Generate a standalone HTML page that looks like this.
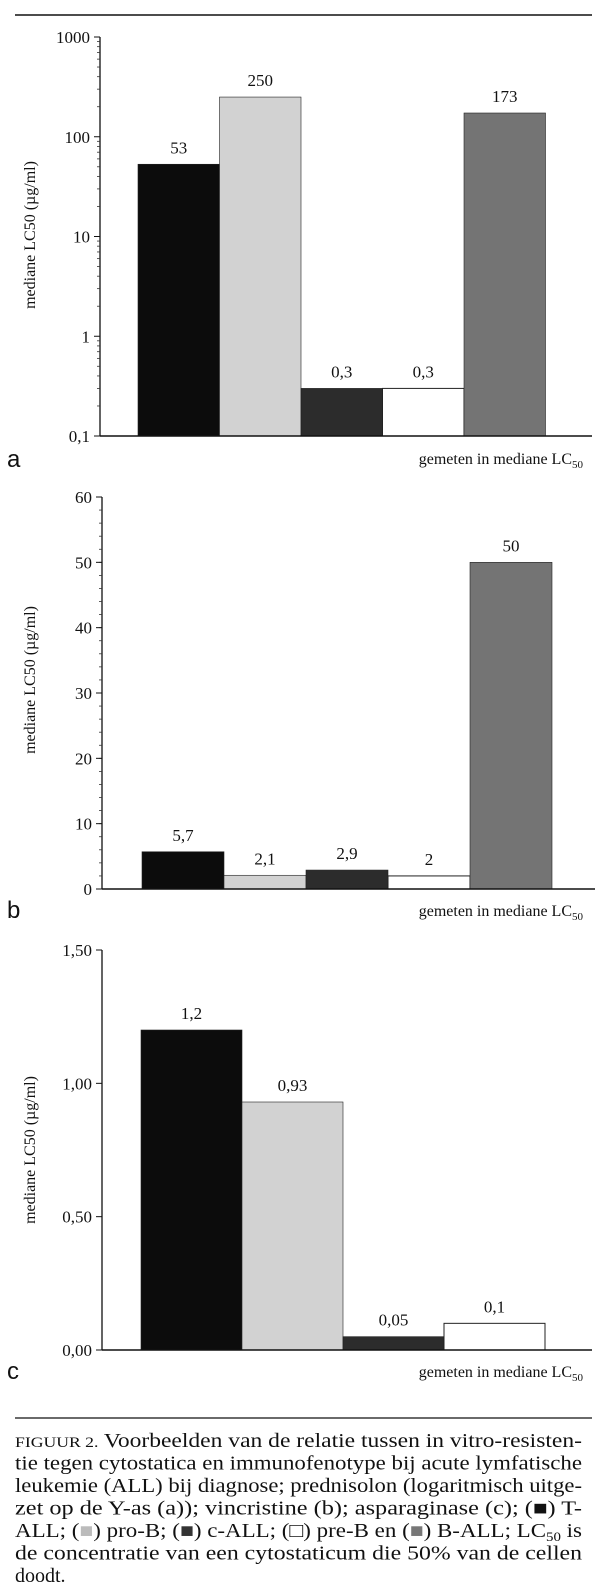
<!DOCTYPE html>
<html><head><meta charset="utf-8"><style>
body{margin:0;background:#fff;}
svg{display:block;font-family:"Liberation Serif",serif;}
</style></head><body>
<svg id="fig" width="600" height="1590" viewBox="0 0 600 1590">
<line x1="15" y1="15" x2="592" y2="15" stroke="#111" stroke-width="1.5"/>
<g id="chartA"></g>
<g id="chartB"></g>
<g id="chartC"></g>
<line x1="15" y1="1418" x2="592" y2="1418" stroke="#111" stroke-width="1.2"/>
<g font-size="20" fill="#111">
<text x="15" y="1447" textLength="567" lengthAdjust="spacingAndGlyphs"><tspan font-size="15">FIGUUR 2.</tspan> Voorbeelden van de relatie tussen in vitro-resisten-</text>
<text x="15" y="1469.5" textLength="567" lengthAdjust="spacingAndGlyphs">tie tegen cytostatica en immunofenotype bij acute lymfatische</text>
<text x="15" y="1492" textLength="567" lengthAdjust="spacingAndGlyphs">leukemie (ALL) bij diagnose; prednisolon (logaritmisch uitge-</text>
<text x="15" y="1514.5" textLength="567" lengthAdjust="spacingAndGlyphs">zet op de Y-as (a)); vincristine (b); asparaginase (c); (■) T-</text>
<text x="15" y="1537" textLength="567" lengthAdjust="spacingAndGlyphs">ALL; (<tspan fill="#bbb">■</tspan>) pro-B; (<tspan fill="#333">■</tspan>) c-ALL; (□) pre-B en (<tspan fill="#777">■</tspan>) B-ALL; LC<tspan font-size="13" dy="4">50</tspan><tspan dy="-4"> is</tspan></text>
<text x="15" y="1559.5" textLength="567" lengthAdjust="spacingAndGlyphs">de concentratie van een cytostaticum die 50% van de cellen</text>
<text x="15" y="1582">doodt.</text>
</g>
</svg>
<script>
const groups = ["T-ALL","pro-B","c-ALL","pre-B","B-ALL"];
const valuesA = [53, 250, 0.3, 0.3, 173];
const labelsA = ["53","250","0,3","0,3","173"];
const valuesB = [5.7, 2.1, 2.9, 2, 50];
const labelsB = ["5,7","2,1","2,9","2","50"];
const valuesC = [1.2, 0.93, 0.05, 0.1];
const labelsC = ["1,2","0,93","0,05","0,1"];
const ticksA = [0.1, 1, 10, 100, 1000];
const tickLabelsA = ["0,1","1","10","100","1000"];
const ticksB = [0,10,20,30,40,50,60];
const tickLabelsB = ["0","10","20","30","40","50","60"];
const ticksC = [0, 0.5, 1, 1.5];
const tickLabelsC = ["0,00","0,50","1,00","1,50"];

const NS="http://www.w3.org/2000/svg";
const fills={"T-ALL":"#0c0c0c","pro-B":"#d2d2d2","c-ALL":"#2c2c2c","pre-B":"#ffffff","B-ALL":"#747474"};
function mk(p,tag,a){const e=document.createElementNS(NS,tag);for(const k in a)e.setAttribute(k,a[k]);p.appendChild(e);return e;}

function draw(id,cfg){
  const g=document.getElementById(id);
  const {x0,x1,yTop,yBot,scale,vals,labs,cats,barX0,barW,ticks,tlabs,minor,letter,letterY,noteY,titleY}=cfg;
  cats.forEach((c,i)=>{
    const yv=scale(vals[i]);
    const r=mk(g,'rect',{x:barX0+i*barW,y:yv,width:barW,height:yBot-yv,fill:fills[c],stroke:'#222','stroke-width':c==='pre-B'?1:0.6});
    
    
    const t=mk(g,'text',{x:barX0+i*barW+barW/2,y:yv-11,'text-anchor':'middle','font-size':17,fill:'#111'});
    t.textContent=labs[i];
    
    
  });
  const ya=mk(g,'line',{x1:x0,y1:yTop,x2:x0,y2:yBot,stroke:'#111','stroke-width':1.3});
  
  
  const xa=mk(g,'line',{x1:x0,y1:yBot,x2:x1,y2:yBot,stroke:'#111','stroke-width':1.5});
  
  
  minor.forEach(v=>{const y=scale(v);const m=mk(g,'line',{x1:x0-3,y1:y,x2:x0,y2:y,stroke:'#333','stroke-width':0.8});
    
    });
  ticks.forEach((v,i)=>{const y=scale(v);
    const m=mk(g,'line',{x1:x0-6,y1:y,x2:x0,y2:y,stroke:'#111','stroke-width':1});
    
    
    const t=mk(g,'text',{x:x0-10,y:y+6,'text-anchor':'end','font-size':17,fill:'#111'});
    t.textContent=tlabs[i];
    
    });
  const tt=mk(g,'text',{x:0,y:0,transform:`translate(35,${titleY}) rotate(-90)`,'text-anchor':'middle','font-size':16,fill:'#111'});
  tt.textContent='mediane LC50 (µg/ml)';
  
  
  const l=mk(g,'text',{x:7,y:letterY,'font-size':24,'font-family':'Liberation Sans, sans-serif',fill:'#111'});
  l.textContent=letter;
  
  
  const n=mk(g,'text',{x:583,y:noteY,'text-anchor':'end','font-size':16,fill:'#111'});
  n.innerHTML='gemeten in mediane LC<tspan font-size="11" dy="4">50</tspan>';
  
  
}
const aTop=37,aBot=436;
const sA=v=>aBot-(Math.log10(v)+1)*(aBot-aTop)/4;
const minorA=[];[0.1,1,10,100].forEach(d=>{for(let k=2;k<10;k++)minorA.push(d*k);});
draw('chartA',{x0:100,x1:592,yTop:aTop,yBot:aBot,scale:sA,vals:valuesA,labs:labelsA,cats:groups,barX0:138,barW:81.5,ticks:ticksA,tlabs:tickLabelsA,minor:minorA,letter:'a',letterY:467,noteY:464,titleY:235});
const bTop=497,bBot=889;
const sB=v=>bBot-v*(bBot-bTop)/60;
const minorB=[];for(let v=2;v<60;v+=2)minorB.push(v);
draw('chartB',{x0:102,x1:595,yTop:bTop,yBot:bBot,scale:sB,vals:valuesB,labs:labelsB,cats:groups,barX0:142,barW:82,ticks:ticksB,tlabs:tickLabelsB,minor:minorB,letter:'b',letterY:918,noteY:916,titleY:680});
const cTop=950,cBot=1350;
const sC=v=>cBot-v*(cBot-cTop)/1.5;
draw('chartC',{x0:102,x1:592,yTop:cTop,yBot:cBot,scale:sC,vals:valuesC,labs:labelsC,cats:['T-ALL','pro-B','c-ALL','pre-B'],barX0:141,barW:101,ticks:ticksC,tlabs:tickLabelsC,minor:[],letter:'c',letterY:1379,noteY:1377,titleY:1150});
</script>
</body></html>
